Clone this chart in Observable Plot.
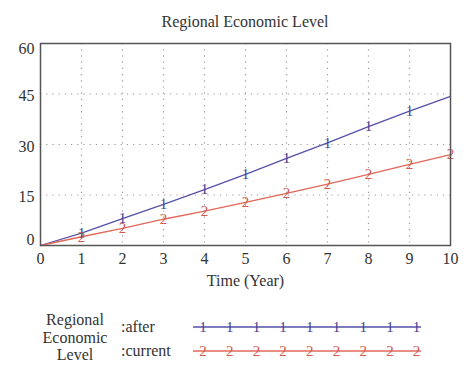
<!DOCTYPE html>
<html><head><meta charset="utf-8">
<script src="https://cdn.jsdelivr.net/npm/d3@7"></script>
<script src="https://cdn.jsdelivr.net/npm/@observablehq/plot@0.6"></script>
<style>
body{margin:0;background:#fff;width:474px;height:381px;position:relative;overflow:hidden;font-family:"Liberation Serif","DejaVu Serif",serif;color:#333}
#title{position:absolute;top:13px;left:0;width:490px;text-align:center;font-size:16px}
#chart{position:absolute;top:0;left:0}
#legend{position:absolute;top:300px;left:0}
</style></head><body>
<div id="title">Regional Economic Level</div>
<div id="chart"></div>
<div id="legend"></div>
<script>
const years = [0,1,2,3,4,5,6,7,8,9,10];
const after = [0,3.7,8.0,12.2,16.6,21.1,25.9,30.5,35.3,39.9,44.3];
const current = [0,2.6,5.1,7.8,10.2,12.8,15.5,18.2,21.1,24.1,27.0];
const yTicks = [0,15,30,45,60];
const xTicks = [0,1,2,3,4,5,6,7,8,9,10];
const seriesNames = ["after","current"];
const seriesLabels = ["1","2"];
const colors = ["#5550a8","#e0685a"];
const markColors = ["#4a4494","#d05a4c"];

const rows = [];
seriesNames.forEach((s,i)=>{
  const vals = i===0?after:current;
  years.forEach((t,j)=>rows.push({series:s,t,v:vals[j]}));
});
const marks1 = years.filter(t=>t>=1&&t<=9).map(t=>({t,v:after[t]}));
const marks2 = years.filter(t=>t>=1&&t<=10).map(t=>({t,v:current[t]}));

const font = '"Liberation Serif","DejaVu Serif",serif';
const ax = {tickSize:0,tickPadding:6,fontSize:16,fill:"#333",label:null};
const chart = Plot.plot({
  width:474, height:290,
  marginLeft:40, marginRight:24, marginTop:43, marginBottom:45,
  style:{fontFamily:font, fontSize:"16px", color:"#333", background:"transparent"},
  x:{domain:[0,10],label:null},
  y:{domain:[0,60],label:null},
  marks:[
    Plot.ruleX(xTicks.filter(d=>d>0&&d<10),{stroke:"#999",strokeDasharray:"1.2,5",strokeWidth:1.2}),
    Plot.ruleY(yTicks.filter(d=>d>0&&d<60),{stroke:"#999",strokeDasharray:"1.2,5",strokeWidth:1.2}),
    Plot.line(rows,{x:"t",y:"v",z:"series",stroke:d=>d.series,strokeWidth:1.3}),
    Plot.text(marks1,{x:"t",y:"v",text:()=>"1",fill:markColors[0],fontSize:15,fontFamily:font}),
    Plot.text(marks2,{x:"t",y:"v",text:()=>"2",fill:markColors[1],fontSize:15,fontFamily:font}),
    Plot.frame({stroke:"#555",strokeWidth:1.5}),
    Plot.axisY([0],{...ax,dy:-6}),
    Plot.axisY([15,30,45],{...ax,dy:2}),
    Plot.axisY([60],{...ax,dy:5}),
    Plot.axisX(xTicks,{...ax,tickPadding:7}),
    Plot.text(["Time (Year)"],{frameAnchor:"bottom",dy:40,text:d=>d,fontSize:16,fill:"#333"})
  ],
  color:{domain:seriesNames,range:colors}
});
document.getElementById("chart").appendChild(chart);

// legend
const lg = d3.select("#legend").append("svg").attr("width",474).attr("height",81)
  .style("font-family",font).style("font-size","16px");
["Regional","Economic","Level"].forEach((w,i)=>{
  lg.append("text").attr("x",75).attr("y",25+i*17.5).attr("text-anchor","middle").attr("fill","#333").text(w);
});
seriesNames.forEach((s,i)=>{
  const y = 27+i*24;
  lg.append("text").attr("x",121).attr("y",y+5).attr("fill","#333").text(":"+s);
  lg.append("line").attr("x1",193).attr("x2",421).attr("y1",y).attr("y2",y).attr("stroke",colors[i]).attr("stroke-width",1.3);
  d3.range(9).forEach(k=>{
    lg.append("text").attr("x",203+k*26.7).attr("y",y+5).attr("text-anchor","middle")
      .attr("fill",markColors[i]).style("font-size","15px").text(seriesLabels[i]);
  });
});
</script>
</body></html>
